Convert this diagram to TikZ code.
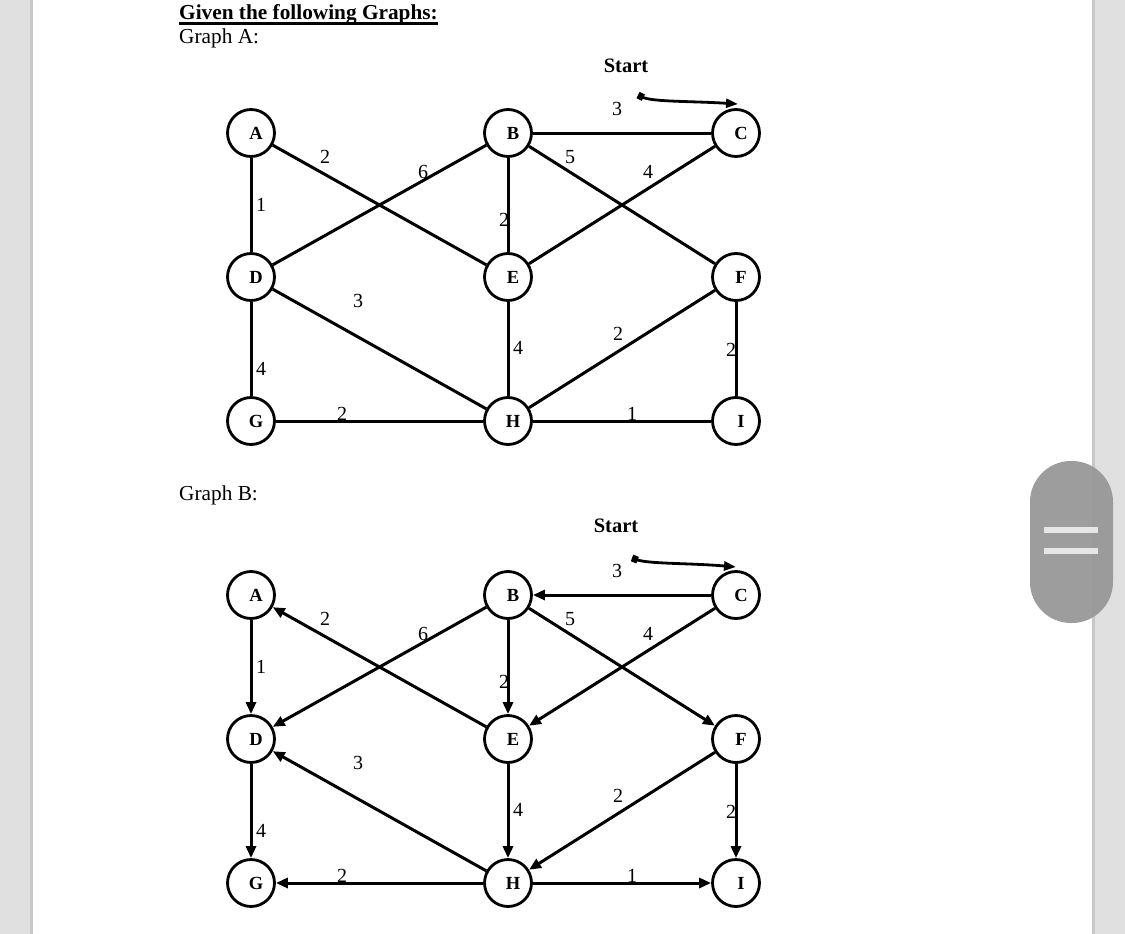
\documentclass[tikz,border=0pt]{standalone}
\usepackage{fontspec}
\setmainfont{Liberation Serif}
\usetikzlibrary{arrows.meta}
\definecolor{sidegray}{HTML}{E0E0E0}
\definecolor{sideline}{HTML}{C8C8C8}
\definecolor{handlegray}{HTML}{989898}
\definecolor{handleline}{HTML}{E6E6E6}
\newcommand\graphnodes[1]{%
  \node[vtx] (#1A) at (251,133) {\hspace*{10pt}A};
  \node[vtx] (#1B) at (508,133) {\hspace*{10pt}B};
  \node[vtx] (#1C) at (736,133) {\hspace*{10pt}C};
  \node[vtx] (#1D) at (251,277) {\hspace*{10pt}D};
  \node[vtx] (#1E) at (508,277) {\hspace*{10pt}E};
  \node[vtx] (#1F) at (736,277) {\hspace*{10pt}F};
  \node[vtx] (#1G) at (251,421) {\hspace*{10pt}G};
  \node[vtx] (#1H) at (508,421) {\hspace*{10pt}H};
  \node[vtx] (#1I) at (736,421) {\hspace*{10pt}I};
}
\newcommand\graphlabels[1]{%
  \node[wt] (#1w1) at (325,157) {2};
  \node[wt] (#1w2) at (423,172) {6};
  \node[wt] (#1w3) at (261,205) {1};
  \node[wt] (#1w4) at (504,220) {2};
  \node[wt] (#1w5) at (570,157) {5};
  \node[wt] (#1w6) at (648,172) {4};
  \node[wt] (#1w7) at (617,109) {3};
  \node[wt] (#1w8) at (358,301) {3};
  \node[wt] (#1w9) at (518,348) {4};
  \node[wt] (#1w10) at (618,334) {2};
  \node[wt] (#1w11) at (731,350) {2};
  \node[wt] (#1w12) at (261,369) {4};
  \node[wt] (#1w13) at (342,414) {2};
  \node[wt] (#1w14) at (632,414) {1};
}
\begin{document}
\begin{tikzpicture}[x=1pt,y=-1pt,
  vtx/.style={circle,draw,line width=2.8pt,minimum size=47pt,inner sep=0pt,font=\fontsize{18.5}{18.5}\selectfont\bfseries},
  wt/.style={font=\fontsize{20}{20}\selectfont,inner sep=0pt},
  edg/.style={line width=3pt},
  arr/.style={line width=3pt,-{Triangle[length=12pt,width=10pt]}},
  startarr/.style={line width=2.8pt,{Square[length=6pt,width=7pt]}-{Triangle[length=12pt,width=9pt]}},
  txt/.style={font=\fontsize{21.3}{21.3}\selectfont,inner sep=0pt,anchor=base west},
  starttxt/.style={font=\fontsize{20.5}{20.5}\selectfont\bfseries,inner sep=0pt,anchor=base},
]
\useasboundingbox (0,0) rectangle (1125,934);
\fill[white] (0,0) rectangle (1125,934);
% side strips
\fill[sidegray] (0,0) rectangle (30,934);
\fill[sideline] (30,0) rectangle (33,934);
\fill[sidegray] (1092,0) rectangle (1125,934);
\fill[sideline] (1092,0) rectangle (1095,934);
% scroll handle
\fill[handlegray,opacity=0.95,rounded corners=41pt] (1030,461) rectangle (1113,623);
\fill[handleline] (1044,527) rectangle (1098,533);
\fill[handleline] (1044,548) rectangle (1098,554);

% headings
\node[txt,font=\fontsize{21.3}{21.3}\selectfont\bfseries] (title) at (179,20) {Given the following Graphs:};
\draw[line width=2.8pt] ([yshift=-3.8pt]title.base west) -- ([yshift=-3.8pt]title.base east);
\node[txt] (ga) at (179,44) {Graph A:};
\node[txt] (gb) at (179,500) {Graph B:};

% ---------- Graph A ----------
\graphnodes{a}
\graphlabels{a}
\node[starttxt] (astart) at (626,73) {Start};
\coordinate (as0) at (638,95);
\coordinate (as1) at (738,104);
\draw[startarr] (as0) .. controls (652,102) and (690,101) .. (as1);
\draw[edg] (aA) -- (aD);
\draw[edg] (aA) -- (aE);
\draw[edg] (aB) -- (aD);
\draw[edg] (aB) -- (aE);
\draw[edg] (aB) -- (aC);
\draw[edg] (aC) -- (aE);
\draw[edg] (aB) -- (aF);
\draw[edg] (aD) -- (aH);
\draw[edg] (aD) -- (aG);
\draw[edg] (aE) -- (aH);
\draw[edg] (aF) -- (aH);
\draw[edg] (aF) -- (aI);
\draw[edg] (aG) -- (aH);
\draw[edg] (aH) -- (aI);

% ---------- Graph B ----------
\begin{scope}[shift={(0,462)}]
\graphnodes{b}
\graphlabels{b}
\node[starttxt] (bstart) at (616,70) {Start};
\coordinate (bs0) at (632,96);
\coordinate (bs1) at (736,105);
\draw[startarr] (bs0) .. controls (648,102) and (690,101) .. (bs1);
\end{scope}
\draw[arr] (bA) -- (bD);
\draw[arr] (bE) -- (bA);
\draw[arr] (bB) -- (bD);
\draw[arr] (bB) -- (bE);
\draw[arr] (bC) -- (bB);
\draw[arr] (bC) -- (bE);
\draw[arr] (bB) -- (bF);
\draw[arr] (bH) -- (bD);
\draw[arr] (bD) -- (bG);
\draw[arr] (bE) -- (bH);
\draw[arr] (bF) -- (bH);
\draw[arr] (bF) -- (bI);
\draw[arr] (bH) -- (bG);
\draw[arr] (bH) -- (bI);
\end{tikzpicture}
\end{document}
